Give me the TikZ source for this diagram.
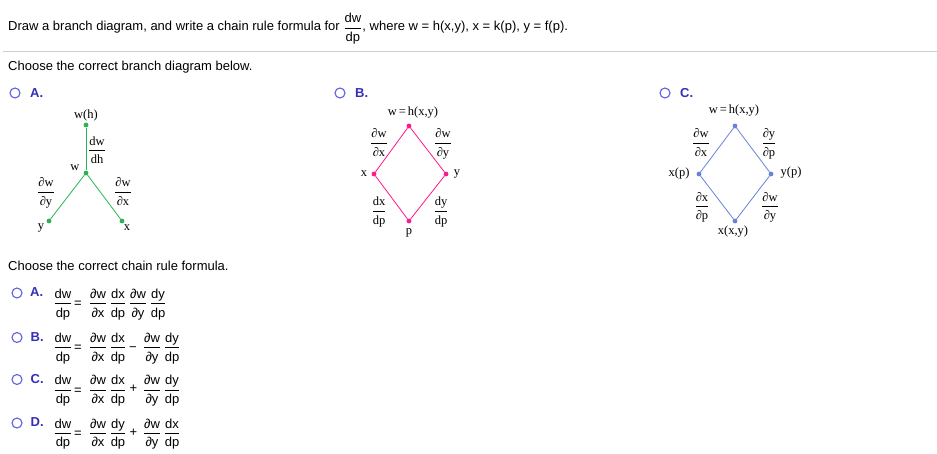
\documentclass[tikz,border=0pt]{standalone}
\usepackage{amsmath}
\usepackage{fontspec}
\setmainfont{Liberation Sans}
\newfontfamily\serifdiag{Liberation Serif}
\usetikzlibrary{positioning}

\definecolor{radioblue}{RGB}{95,95,225}
\definecolor{letterblue}{RGB}{55,45,185}
\definecolor{branchA}{RGB}{40,180,85}
\definecolor{branchB}{RGB}{255,25,140}
\definecolor{branchC}{RGB}{105,130,215}
\definecolor{rulegray}{RGB}{205,205,218}

\newcommand{\frc}[2]{$\genfrac{}{}{0.7pt}{0}{\mbox{#1\rule[-3pt]{0pt}{3pt}}}{\mbox{\rule{0pt}{11pt}#2}}$}

\begin{document}
\begin{tikzpicture}[x=1pt,y=-1pt,
  txt/.style={font=\fontsize{13}{15}\selectfont,inner sep=0,anchor=base},
  lbl/.style={font=\serifdiag\fontsize{12.5}{14}\selectfont,inner sep=0},
  radio/.style={circle,draw=radioblue,line width=1.1pt,minimum size=10pt,inner sep=0},
  letter/.style={font=\bfseries\fontsize{13}{15}\selectfont,text=letterblue,inner sep=0,anchor=west},
  dot/.style={circle,inner sep=0,minimum size=4.8pt},
  edgeA/.style={draw=branchA,line width=0.8pt},
  edgeB/.style={draw=branchB,line width=0.8pt},
  edgeC/.style={draw=branchC,line width=0.8pt}]
\useasboundingbox[fill=white] (0,0) rectangle (937,454);

% question
\node[txt,anchor=base west] (question) at (8,31)
  {Draw a branch diagram, and write a chain rule formula for \frc{dw}{dp}, where w = h(x,y), x = k(p), y = f(p).};
\draw[rulegray,line width=1pt] (3,52) -- (937,52);
\node[txt,anchor=base west] (askdiag) at (8,71) {Choose the correct branch diagram below.};

% choice A
\node[radio] (radA) at (15,93) {};
\node[letter] (letA) at (30,93) {A.};
\node[dot,fill=branchA] (Atop) at (86,125) {};
\node[dot,fill=branchA] (Amid) at (86,173) {};
\node[dot,fill=branchA] (Ay) at (49,221) {};
\node[dot,fill=branchA] (Ax) at (122,221) {};
\draw[edgeA] (Atop) -- (Amid);
\draw[edgeA] (Amid) -- (Ay);
\draw[edgeA] (Amid) -- (Ax);
\node[lbl] (Atoplbl) at (86,115) {w(h)};
\node[lbl] (Amidlbl) at (75,168) {w};
\node[lbl] (Aylbl) at (41,228) {y};
\node[lbl] (Axlbl) at (127,228) {x};
\node[lbl,anchor=base] (Adwdh) at (97,153.5) {\frc{dw}{dh}};
\node[lbl,anchor=base] (Adwdy) at (46,195) {\frc{∂w}{∂y}};
\node[lbl,anchor=base] (Adwdx) at (123,195) {\frc{∂w}{∂x}};

% choice B
\node[radio] (radB) at (340,93) {};
\node[letter] (letB) at (355,93) {B.};
\node[dot,fill=branchB] (Btop) at (409,126) {};
\node[dot,fill=branchB] (Bx) at (374,174) {};
\node[dot,fill=branchB] (By) at (446,174) {};
\node[dot,fill=branchB] (Bp) at (409,221) {};
\draw[edgeB] (Btop) -- (Bx) -- (Bp) -- (By) -- (Btop);
\node[lbl] (Btoplbl) at (413,113) {w\hspace{2pt}=\hspace{2pt}h(x,y)};
\node[lbl] (Bxlbl) at (364,174) {x};
\node[lbl] (Bylbl) at (457,174) {y};
\node[lbl] (Bplbl) at (409,233) {p};
\node[lbl,anchor=base] (Bdwdx) at (379,146) {\frc{∂w}{∂x}};
\node[lbl,anchor=base] (Bdwdy) at (443,146) {\frc{∂w}{∂y}};
\node[lbl,anchor=base] (Bdxdp) at (379,214) {\frc{dx}{dp}};
\node[lbl,anchor=base] (Bdydp) at (441,214) {\frc{dy}{dp}};

% choice C
\node[radio] (radC) at (665,93) {};
\node[letter] (letC) at (680,93) {C.};
\node[dot,fill=branchC] (Ctop) at (735,126) {};
\node[dot,fill=branchC] (Cx) at (699,174) {};
\node[dot,fill=branchC] (Cy) at (771,174) {};
\node[dot,fill=branchC] (Cbot) at (735,221) {};
\draw[edgeC] (Ctop) -- (Cx) -- (Cbot) -- (Cy) -- (Ctop);
\node[lbl] (Ctoplbl) at (734,111) {w\hspace{2pt}=\hspace{2pt}h(x,y)};
\node[lbl] (Cxlbl) at (679,173) {x(p)};
\node[lbl] (Cylbl) at (791,173) {y(p)};
\node[lbl] (Cbotlbl) at (733,232) {x(x,y)};
\node[lbl,anchor=base] (Cdwdx) at (701,146) {\frc{∂w}{∂x}};
\node[lbl,anchor=base] (Cdydp) at (769,146) {\frc{∂y}{∂p}};
\node[lbl,anchor=base] (Cdxdp) at (702,209.5) {\frc{∂x}{∂p}};
\node[lbl,anchor=base] (Cdwdy) at (770,209.5) {\frc{∂w}{∂y}};

% chain rule formulas
\node[txt,anchor=base west] (askrule) at (8,271) {Choose the correct chain rule formula.};

\node[radio] (radFA) at (17,293) {};
\node[letter] (letFA) at (30,292) {A.};
\node[txt] (FAlhs) at (63,306.75) {\frc{dw}{dp}};
\node[txt] (FAeq) at (78,308) {=};
\node[txt] (FAa) at (98,306.75) {\frc{∂w}{∂x}};
\node[txt] (FAb) at (118,306.75) {\frc{dx}{dp}};
\node[txt] (FAc) at (138,306.75) {\frc{∂w}{∂y}};
\node[txt] (FAd) at (158,306.75) {\frc{dy}{dp}};

\node[radio] (radFB) at (17,337.5) {};
\node[letter] (letFB) at (30.5,337) {B.};
\node[txt] (FBlhs) at (63,350.75) {\frc{dw}{dp}};
\node[txt] (FBeq) at (78,352) {=};
\node[txt] (FBa) at (98,350.75) {\frc{∂w}{∂x}};
\node[txt] (FBb) at (118,350.75) {\frc{dx}{dp}};
\node[txt] (FBop) at (133,351.5) {−};
\node[txt] (FBc) at (152,350.75) {\frc{∂w}{∂y}};
\node[txt] (FBd) at (172,350.75) {\frc{dy}{dp}};

\node[radio] (radFC) at (17,379.5) {};
\node[letter] (letFC) at (30.5,379) {C.};
\node[txt] (FClhs) at (63,393) {\frc{dw}{dp}};
\node[txt] (FCeq) at (78,394) {=};
\node[txt] (FCa) at (98,393) {\frc{∂w}{∂x}};
\node[txt] (FCb) at (118,393) {\frc{dx}{dp}};
\node[txt] (FCop) at (133.5,392.5) {+};
\node[txt] (FCc) at (152,393) {\frc{∂w}{∂y}};
\node[txt] (FCd) at (172,393) {\frc{dy}{dp}};

\node[radio] (radFD) at (17,423) {};
\node[letter] (letFD) at (30.5,422.5) {D.};
\node[txt] (FDlhs) at (63,436.5) {\frc{dw}{dp}};
\node[txt] (FDeq) at (78,437.5) {=};
\node[txt] (FDa) at (98,436.5) {\frc{∂w}{∂x}};
\node[txt] (FDb) at (118,436.5) {\frc{dy}{dp}};
\node[txt] (FDop) at (133.5,436) {+};
\node[txt] (FDc) at (152,436.5) {\frc{∂w}{∂y}};
\node[txt] (FDd) at (172,436.5) {\frc{dx}{dp}};
\end{tikzpicture}
\end{document}
